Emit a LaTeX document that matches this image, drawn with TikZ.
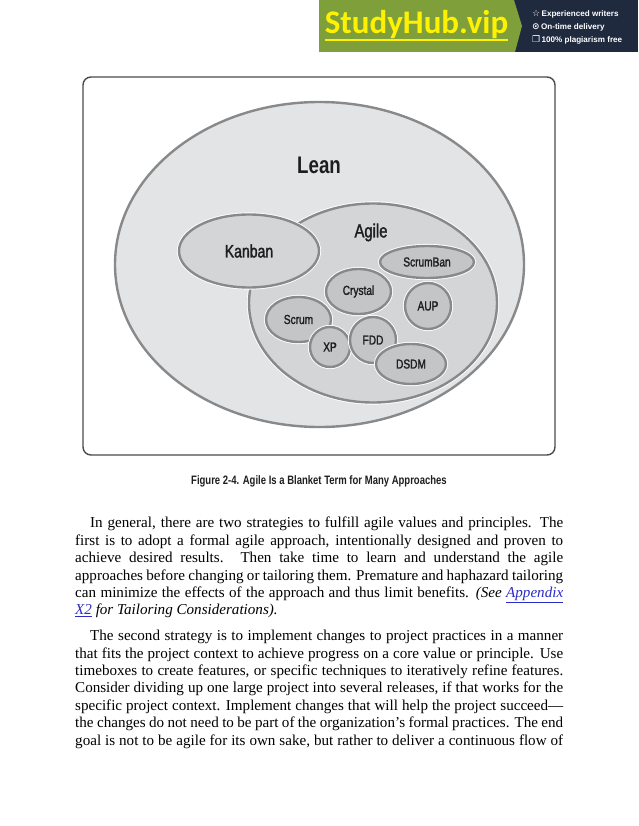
\documentclass[tikz,border=0pt]{standalone}
\usepackage{fontspec}
\usetikzlibrary{shapes.geometric}
\setmainfont{Liberation Serif}
\newfontfamily\labelfont[FakeStretch=0.78]{Liberation Sans}
\newfontfamily\methodfont[FakeStretch=0.78,FakeBold=1.6]{Liberation Sans}
\newfontfamily\bannerfont{Carlito}
\newfontfamily\iconfont{DejaVu Sans}
\definecolor{leanfill}{HTML}{E3E4E5}
\definecolor{agilefill}{HTML}{D4D5D6}
\definecolor{methodfill}{HTML}{C4C5C6}
\definecolor{ringgray}{HTML}{87898B}
\definecolor{framegray}{HTML}{4A4A4C}
\definecolor{bannergreen}{HTML}{7F9F3A}
\definecolor{bannernavy}{HTML}{1F2A3F}
\definecolor{linkblue}{HTML}{2B2BC8}
\definecolor{labelgray}{HTML}{1E1E20}
\tikzset{
  ring/.style={ellipse,draw=ringgray,line width=2.4pt,inner sep=0pt,text=labelgray,
    preaction={draw=white,line width=4.2pt}},
  lean/.style={ring,fill=leanfill,minimum width=409,minimum height=325},
  agile/.style={ring,fill=agilefill,minimum width=248,minimum height=199},
  method/.style={ring,fill=methodfill,font=\methodfont\fontsize{13}{15}\selectfont},
  bannerline/.style={anchor=west,text=white,inner sep=0pt,font=\fontspec{Liberation Sans}\bfseries\fontsize{8.1}{10}\selectfont},
  bodytext/.style={anchor=north west,inner sep=0pt,text width=488,align=justify,
    font=\fontsize{15.1}{17.4}\selectfont},
}
\begin{document}
\begin{tikzpicture}[x=1pt,y=-1pt]
\useasboundingbox (0,0) rectangle (638,826);
% banner
\fill[bannernavy] (514,0) rectangle (638,52);
\fill[bannergreen] (319,0) -- (514,0) -- (522,26) -- (515,52) -- (319,52) -- cycle;
\node[anchor=center,inner sep=0pt,text=yellow,font=\bannerfont\bfseries\fontsize{33}{36}\selectfont] (brand) at (416.5,25) {StudyHub.vip};
\fill[yellow] (brand.west |- 0,39.5) rectangle (brand.east |- 0,41.5);
\node[bannerline] (writers) at (532,14) {{\iconfont\fontsize{9}{10}\selectfont ☆}\,Experienced writers};
\node[bannerline] (delivery) at (532,27) {{\iconfont\fontsize{9}{10}\selectfont ⊙}\,On-time delivery};
\node[bannerline] (free) at (532,40) {{\iconfont\fontsize{9}{10}\selectfont ❐}\,100\% plagiarism free};
% figure
\draw[framegray,line width=1.4pt,rounded corners=8] (83,77) rectangle (555,455);
\node[lean] (lean) at (319.5,264.5) {};
\node[font=\labelfont\bfseries\fontsize{24}{27}\selectfont,text=labelgray] (leanlabel) at (319,165) {Lean};
\node[agile] (agile) at (373,303) {};
\node[font=\methodfont\fontsize{19}{22}\selectfont,text=labelgray] (agilelabel) at (371,232.5) {Agile};
\node[ring,fill=agilefill,minimum width=140,minimum height=73,font=\methodfont\fontsize{18}{21}\selectfont] (kanban) at (249,251) {Kanban};
\node[method,minimum width=94,minimum height=32] (scrumban) at (427,262) {ScrumBan};
\node[method,minimum width=65,minimum height=45] (crystal) at (358.5,291.5) {Crystal};
\node[method,minimum width=46,minimum height=46] (aup) at (428,306) {AUP};
\node[method,minimum width=65,minimum height=45] (scrum) at (298.5,319.5) {Scrum};
\node[method,minimum width=40,minimum height=40] (xp) at (330,347) {XP};
\node[method,minimum width=46,minimum height=46] (fdd) at (373,340) {FDD};
\node[method,minimum width=70,minimum height=40] (dsdm) at (411,364) {DSDM};
\node[font=\labelfont\bfseries\fontsize{12.2}{14}\selectfont,text=labelgray] (caption) at (319,481) {Figure 2-4. Agile Is a Blanket Term for Many Approaches};
% page text
\node[bodytext] (firstpara) at (75,517) {\hyphenpenalty=10000\hspace*{15pt}In general, there are two strategies to fulfill agile values and principles. The\linebreak
first is to adopt a formal agile approach, intentionally designed and proven to\linebreak
achieve desired results. Then take time to learn and understand the agile\linebreak
approaches before changing or tailoring them. Premature and haphazard tailoring\linebreak
can minimize the effects of the approach and thus limit benefits. \textit{(See \textcolor{linkblue}{\underline{Appendix}}}\linebreak
\textit{\textcolor{linkblue}{\underline{X2}} for Tailoring Considerations).}};
\node[bodytext] (secondpara) at (75,630) {\hyphenpenalty=10000\hspace*{15pt}The second strategy is to implement changes to project practices in a manner\linebreak
that fits the project context to achieve progress on a core value or principle. Use\linebreak
timeboxes to create features, or specific techniques to iteratively refine features.\linebreak
Consider dividing up one large project into several releases, if that works for the\linebreak
specific project context. Implement changes that will help the project succeed—\linebreak
the changes do not need to be part of the organization's formal practices. The end\linebreak
goal is not to be agile for its own sake, but rather to deliver a continuous flow of\linebreak};
\end{tikzpicture}
\end{document}
